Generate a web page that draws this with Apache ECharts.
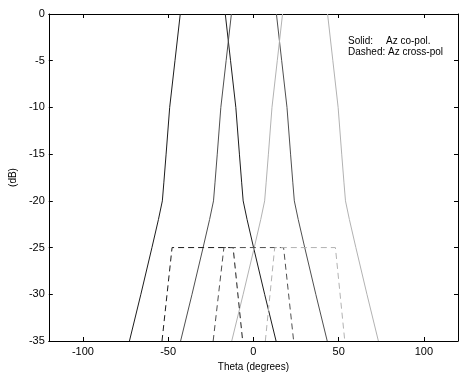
<!DOCTYPE html>
<html>
<head>
<meta charset="utf-8">
<script src="https://cdn.jsdelivr.net/npm/echarts@6/dist/echarts.min.js"></script>
<style>
html,body{margin:0;padding:0;background:#fff;}
#c{width:474px;height:387px;}
</style>
</head>
<body>
<div id="c"></div>
<script>
// dB levels for solid (co-pol) curves, bottom to top
const dbLevels = [-35, -30, -25, -22, -20, -18, -15, -10, -5, 0];
// theta (deg) of each edge at those levels
const beam1Left  = [-72.7, -66.0, -59.5, -55.7, -53.4, -52.5, -51.2, -49.1, -46.0, -42.9];
const beam1Right = [13.3, 6.6, 0.1, -3.7, -6.0, -6.9, -8.2, -10.3, -13.4, -16.5];
const beam2Left  = [-42.7, -36.0, -29.5, -25.7, -23.4, -22.5, -21.2, -19.1, -16.0, -12.9];
const beam2Right = [43.3, 36.6, 30.1, 26.3, 24.0, 23.1, 21.8, 19.7, 16.6, 13.5];
const beam3Left  = [-12.7, -6.0, 0.5, 4.3, 6.6, 7.5, 8.8, 10.9, 14.0, 17.1];
const beam3Right = [73.3, 66.6, 60.1, 56.3, 54.0, 53.1, 51.8, 49.7, 46.6, 43.5];

// cross-pol (dashed) curves
const crossLevels = [-35, -25, -25, -35];
const cross1X = [-53.6, -47.7, -11.9, -6.3];
const cross2X = [-23.6, -17.3, 17.7, 23.6];
const cross3X = [7.0, 12.5, 48.1, 53.6];

const xTicks = [-100, -50, 0, 50, 100];
const yTicks = [0, -5, -10, -15, -20, -25, -30, -35];

const beamColors = ['#1c1c1c', '#4f4f4f', '#b2b2b2'];

function coPol(left, right) {
  const d = [];
  for (let i = 0; i < dbLevels.length; i++) d.push([left[i], dbLevels[i]]);
  d.push(['-', '-']);
  for (let i = dbLevels.length - 1; i >= 0; i--) d.push([right[i], dbLevels[i]]);
  return d;
}
function crossPol(xs) {
  return xs.map((x, i) => [x, crossLevels[i]]);
}

const series = [];
[[beam1Left, beam1Right], [beam2Left, beam2Right], [beam3Left, beam3Right]].forEach((b, k) => {
  series.push({
    type: 'line', data: coPol(b[0], b[1]), showSymbol: false, symbol: 'none',
    connectNulls: false, clip: true, animation: false,
    lineStyle: { color: beamColors[k], width: 1 }
  });
});
[cross1X, cross2X, cross3X].forEach((xs, k) => {
  series.push({
    type: 'line', data: crossPol(xs), showSymbol: false, symbol: 'none',
    clip: true, animation: false,
    lineStyle: { color: beamColors[k], width: 1, type: [6, 4] }
  });
});

const font = 'Liberation Sans, Arial, Helvetica, sans-serif';
const fs = 10;
const tfs = 11;
const axisLineStyle = { show: true, onZero: false, lineStyle: { color: '#000', width: 1 } };

const chart = echarts.init(document.getElementById('c'), null, { renderer: 'canvas' });
chart.setOption({
  backgroundColor: '#fff',
  animation: false,
  grid: { left: 43, right: 16, top: 14, bottom: 46, containLabel: false },
  xAxis: [
    {
      type: 'value', min: -120, max: 120, position: 'bottom',
      name: 'Theta (degrees)', nameLocation: 'middle', nameGap: 17,
      nameTextStyle: { fontFamily: font, fontSize: fs, color: '#000' },
      axisLine: axisLineStyle, splitLine: { show: false },
      axisLabel: {
        fontFamily: font, fontSize: tfs, color: '#000', margin: 5,
        customValues: xTicks, formatter: v => String(v)
      },
      axisTick: { show: true, inside: true, length: 4, lineStyle: { color: '#000' }, customValues: xTicks }
    },
    {
      type: 'value', min: -120, max: 120, position: 'top',
      axisLine: axisLineStyle, splitLine: { show: false },
      axisLabel: { show: false },
      axisTick: { show: true, inside: true, length: 4, lineStyle: { color: '#000' }, customValues: xTicks }
    }
  ],
  yAxis: [
    {
      type: 'value', min: -35, max: 0, position: 'left',
      name: '(dB)', nameLocation: 'middle', nameGap: 26, nameRotate: 90,
      nameTextStyle: { fontFamily: font, fontSize: fs, color: '#000' },
      axisLine: axisLineStyle, splitLine: { show: false },
      axisLabel: { fontFamily: font, fontSize: tfs, color: '#000', margin: 4, customValues: yTicks },
      axisTick: { show: true, inside: true, length: 4, lineStyle: { color: '#000' }, customValues: yTicks }
    },
    {
      type: 'value', min: -35, max: 0, position: 'right',
      axisLine: axisLineStyle, splitLine: { show: false },
      axisLabel: { show: false },
      axisTick: { show: true, inside: true, length: 4, lineStyle: { color: '#000' }, customValues: yTicks }
    }
  ],
  series: series,
  graphic: [
    { type: 'text', left: 348, top: 36, style: { text: 'Solid:', fontFamily: font, fontSize: fs, fill: '#000' } },
    { type: 'text', left: 386, top: 36, style: { text: 'Az co-pol.', fontFamily: font, fontSize: fs, fill: '#000' } },
    { type: 'text', left: 348, top: 47, style: { text: 'Dashed: Az cross-pol', fontFamily: font, fontSize: fs, fill: '#000' } }
  ]
});
</script>
</body>
</html>
